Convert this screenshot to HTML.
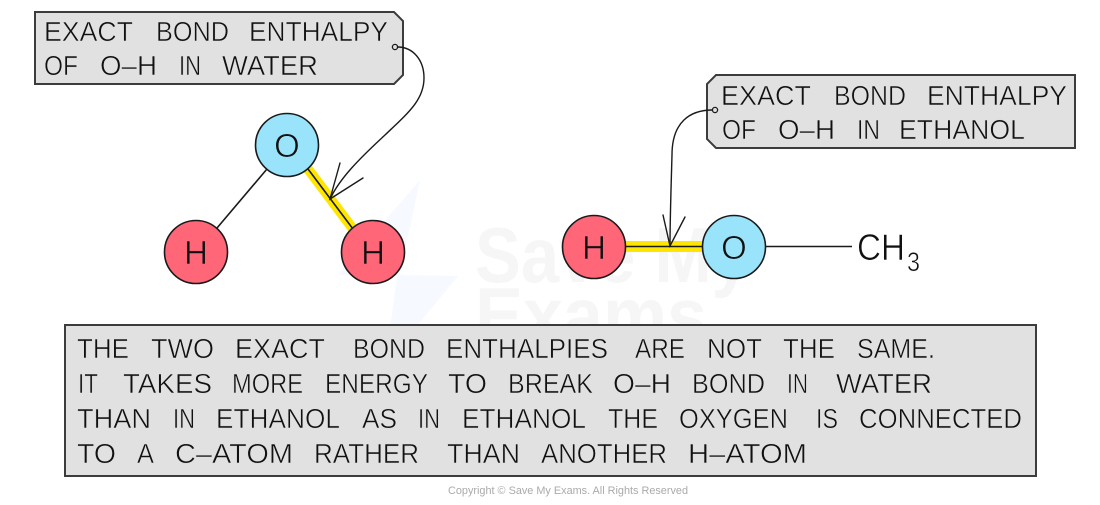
<!DOCTYPE html>
<html>
<head>
<meta charset="utf-8">
<style>
html,body{margin:0;padding:0;background:#fff;width:1100px;height:505px;overflow:hidden}
svg{display:block}
text{font-family:"Liberation Sans",sans-serif}
.t{font-size:28px;fill:#111;stroke:#e1e1e1;stroke-width:.55px}
.a{font-size:33px;fill:#111;text-anchor:middle;stroke-width:.6px}
.box{fill:#e1e1e1;stroke:#3c3c3c;stroke-width:2}
.ln{fill:none;stroke:#1a1a1a;stroke-width:1.4;stroke-linecap:round}
.c{stroke:#1a1a1a;stroke-width:1.6}
</style>
</head>
<body>
<svg width="1100" height="505" viewBox="0 0 1100 505" xmlns="http://www.w3.org/2000/svg">
<!-- watermark -->
<polygon points="420,180 338,275 397,276 385,365 458,276 400,275" fill="#f6f9ff"/>
<g fill="#f6f6f6" font-weight="bold">
<text x="475" y="282" font-size="78" textLength="275" lengthAdjust="spacingAndGlyphs">Save My</text>
<text x="475" y="342" font-size="78" textLength="232" lengthAdjust="spacingAndGlyphs">Exams</text>
</g>

<!-- box 1 -->
<polygon class="box" points="35,12 394,12 403,21 403,75 394,84 35,84"/>
<g class="t">
<text x="44" y="41" textLength="89" lengthAdjust="spacingAndGlyphs">EXACT</text>
<text x="156" y="41" textLength="73" lengthAdjust="spacingAndGlyphs">BOND</text>
<text x="249" y="41" textLength="139" lengthAdjust="spacingAndGlyphs">ENTHALPY</text>
<text x="44" y="75" textLength="34" lengthAdjust="spacingAndGlyphs">OF</text>
<text x="100" y="75" textLength="57" lengthAdjust="spacingAndGlyphs">O–H</text>
<text x="179" y="75" textLength="22" lengthAdjust="spacingAndGlyphs">IN</text>
<text x="222" y="75" textLength="96" lengthAdjust="spacingAndGlyphs">WATER</text>
</g>

<!-- box 2 -->
<polygon class="box" points="716,75 1075,75 1075,148 716,148 707,139 707,84"/>
<g class="t">
<text x="721" y="105" textLength="90" lengthAdjust="spacingAndGlyphs">EXACT</text>
<text x="834" y="105" textLength="72" lengthAdjust="spacingAndGlyphs">BOND</text>
<text x="927" y="105" textLength="140" lengthAdjust="spacingAndGlyphs">ENTHALPY</text>
<text x="722" y="139" textLength="34" lengthAdjust="spacingAndGlyphs">OF</text>
<text x="778" y="139" textLength="57" lengthAdjust="spacingAndGlyphs">O–H</text>
<text x="857" y="139" textLength="23" lengthAdjust="spacingAndGlyphs">IN</text>
<text x="899" y="139" textLength="126" lengthAdjust="spacingAndGlyphs">ETHANOL</text>
</g>

<!-- water molecule -->
<line x1="308" y1="169" x2="353" y2="229" stroke="#ffe600" stroke-width="10"/>
<line x1="308" y1="169" x2="353" y2="229" stroke="#1a1a1a" stroke-width="1.6"/>
<line x1="267" y1="169" x2="217" y2="228" stroke="#1a1a1a" stroke-width="1.6"/>
<circle class="c" cx="287" cy="145" r="31.5" fill="#99e4fb"/>
<circle class="c" cx="196" cy="252" r="31.5" fill="#ff6678"/>
<circle class="c" cx="373" cy="252" r="31.5" fill="#ff6678"/>
<text class="a" x="287" y="157" stroke="#99e4fb">O</text>
<text class="a" x="196" y="264" stroke="#ff6678">H</text>
<text class="a" x="373" y="264" stroke="#ff6678">H</text>

<!-- arrow 1 -->
<circle cx="395" cy="47" r="2.6" fill="none" stroke="#1a1a1a" stroke-width="1.3"/>
<path class="ln" d="M397.500,47 C413,47 424,60 424,78 C424,100 408,113 385,135 C360,158 340,178 330,199"/>
<path class="ln" d="M340,163 L330,199 L363,178"/>

<!-- ethanol molecule -->
<rect x="625" y="241" width="78" height="11" fill="#ffe600"/>
<line x1="625" y1="246.500" x2="703" y2="246.500" stroke="#1a1a1a" stroke-width="1.600"/>
<line x1="766" y1="246.500" x2="852" y2="246.500" stroke="#1a1a1a" stroke-width="1.600"/>
<circle class="c" cx="594" cy="247" r="31.500" fill="#ff6678"/>
<circle class="c" cx="734" cy="247" r="31.500" fill="#99e4fb"/>
<text class="a" x="594" y="259" stroke="#ff6678">H</text>
<text class="a" x="734" y="259" stroke="#99e4fb">O</text>
<text x="857" y="260" font-size="37" fill="#111" stroke="#fff" stroke-width=".6" textLength="48" lengthAdjust="spacingAndGlyphs">CH</text>
<text x="907" y="271" font-size="27" fill="#111" stroke="#fff" stroke-width=".5" textLength="13" lengthAdjust="spacingAndGlyphs">3</text>

<!-- arrow 2 -->
<circle cx="715" cy="110" r="2.600" fill="none" stroke="#1a1a1a" stroke-width="1.300"/>
<path class="ln" d="M712.500,110 C690,110 672,122 672,155 C671,190 670,220 670,246"/>
<path class="ln" d="M663,215 L670,246 L685,217"/>

<!-- main box -->
<rect class="box" x="65" y="325" width="971" height="151"/>
<g class="t">
<text x="77" y="358" textLength="52" lengthAdjust="spacingAndGlyphs">THE</text>
<text x="151" y="358" textLength="63" lengthAdjust="spacingAndGlyphs">TWO</text>
<text x="235" y="358" textLength="90" lengthAdjust="spacingAndGlyphs">EXACT</text>
<text x="353" y="358" textLength="72" lengthAdjust="spacingAndGlyphs">BOND</text>
<text x="446" y="358" textLength="162" lengthAdjust="spacingAndGlyphs">ENTHALPIES</text>
<text x="635" y="358" textLength="50" lengthAdjust="spacingAndGlyphs">ARE</text>
<text x="707" y="358" textLength="55" lengthAdjust="spacingAndGlyphs">NOT</text>
<text x="783" y="358" textLength="52" lengthAdjust="spacingAndGlyphs">THE</text>
<text x="857" y="358" textLength="78" lengthAdjust="spacingAndGlyphs">SAME.</text>

<text x="78" y="393" textLength="20" lengthAdjust="spacingAndGlyphs">IT</text>
<text x="123" y="393" textLength="89" lengthAdjust="spacingAndGlyphs">TAKES</text>
<text x="232" y="393" textLength="71" lengthAdjust="spacingAndGlyphs">MORE</text>
<text x="325" y="393" textLength="103" lengthAdjust="spacingAndGlyphs">ENERGY</text>
<text x="448" y="393" textLength="39" lengthAdjust="spacingAndGlyphs">TO</text>
<text x="508" y="393" textLength="85" lengthAdjust="spacingAndGlyphs">BREAK</text>
<text x="613" y="393" textLength="58" lengthAdjust="spacingAndGlyphs">O–H</text>
<text x="692" y="393" textLength="73" lengthAdjust="spacingAndGlyphs">BOND</text>
<text x="787" y="393" textLength="21" lengthAdjust="spacingAndGlyphs">IN</text>
<text x="836" y="393" textLength="96" lengthAdjust="spacingAndGlyphs">WATER</text>

<text x="77" y="428" textLength="74" lengthAdjust="spacingAndGlyphs">THAN</text>
<text x="173" y="428" textLength="22" lengthAdjust="spacingAndGlyphs">IN</text>
<text x="216" y="428" textLength="124" lengthAdjust="spacingAndGlyphs">ETHANOL</text>
<text x="362" y="428" textLength="35" lengthAdjust="spacingAndGlyphs">AS</text>
<text x="418" y="428" textLength="22" lengthAdjust="spacingAndGlyphs">IN</text>
<text x="462" y="428" textLength="124" lengthAdjust="spacingAndGlyphs">ETHANOL</text>
<text x="608" y="428" textLength="50" lengthAdjust="spacingAndGlyphs">THE</text>
<text x="679" y="428" textLength="109" lengthAdjust="spacingAndGlyphs">OXYGEN</text>
<text x="816" y="428" textLength="22" lengthAdjust="spacingAndGlyphs">IS</text>
<text x="859" y="428" textLength="163" lengthAdjust="spacingAndGlyphs">CONNECTED</text>

<text x="77" y="463" textLength="39" lengthAdjust="spacingAndGlyphs">TO</text>
<text x="137" y="463" textLength="17" lengthAdjust="spacingAndGlyphs">A</text>
<text x="175" y="463" textLength="118" lengthAdjust="spacingAndGlyphs">C–ATOM</text>
<text x="314" y="463" textLength="105" lengthAdjust="spacingAndGlyphs">RATHER</text>
<text x="447" y="463" textLength="73" lengthAdjust="spacingAndGlyphs">THAN</text>
<text x="541" y="463" textLength="126" lengthAdjust="spacingAndGlyphs">ANOTHER</text>
<text x="688" y="463" textLength="119" lengthAdjust="spacingAndGlyphs">H–ATOM</text>
</g>

<text x="448" y="494" font-size="11" fill="#aaaaaa" textLength="240" lengthAdjust="spacingAndGlyphs">Copyright © Save My Exams. All Rights Reserved</text>
</svg>
</body>
</html>
